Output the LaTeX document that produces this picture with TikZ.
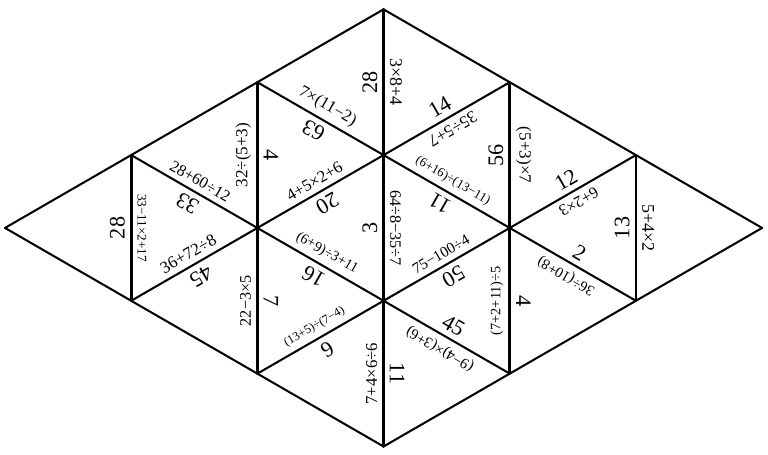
\documentclass[tikz,border=0pt]{standalone}
\usepackage{fontspec}
\setmainfont{Liberation Serif}
\tikzset{
  answer/.style={font=\fontsize{13}{15}\selectfont, anchor=south, inner sep=3.5pt},
  question/.style={font=\fontsize{#1}{#1}\selectfont, anchor=south, inner sep=3.5pt},
  question/.default=9.5,
  edgeline/.style={line width=0.042cm, line cap=round},
  cutline/.style={line width=0.058cm, line cap=round},
}
\begin{document}
\begin{tikzpicture}
                \useasboundingbox (-0.103000,-4.675000) rectangle (15.710000,4.693000);

                % Marking points of the grid
                \coordinate (P00) at (0.000000,0.000000);%
                \coordinate (P10) at (2.598076,1.500000);%
                \coordinate (P01) at (2.598076,-1.500000);%
                \coordinate (P20) at (5.196152,3.000000);%
                \coordinate (P11) at (5.196152,0.000000);%
                \coordinate (P02) at (5.196152,-3.000000);%
                \coordinate (P30) at (7.794229,4.500000);%
                \coordinate (P21) at (7.794229,1.500000);%
                \coordinate (P12) at (7.794229,-1.500000);%
                \coordinate (P03) at (7.794229,-4.500000);%
                \coordinate (P31) at (10.392305,3.000000);%
                \coordinate (P22) at (10.392305,0.000000);%
                \coordinate (P13) at (10.392305,-3.000000);%
                \coordinate (P32) at (12.990381,1.500000);%
                \coordinate (P23) at (12.990381,-1.500000);%
                \coordinate (P33) at (15.588457,0.000000);%

                % Drawing segment P00 P30
                \draw [edgeline] (P00) -- (P30);%
                % Drawing segment P01 P31
                \draw [edgeline] (P01) -- (P31);%
                % Drawing segment P02 P32
                \draw [edgeline] (P02) -- (P32);%
                % Drawing segment P03 P33
                \draw [edgeline] (P03) -- (P33);%

                % Drawing segment P00 P03
                \draw [edgeline] (P00) -- (P03);%
                % Drawing segment P10 P13
                \draw [edgeline] (P10) -- (P13);%
                % Drawing segment P20 P23
                \draw [edgeline] (P20) -- (P23);%
                % Drawing segment P30 P33
                \draw [edgeline] (P30) -- (P33);%

                % Drawing segment P10 P01
                \draw [cutline] (P10) -- (P01);%
                % Drawing segment P20 P02
                \draw [cutline] (P20) -- (P02);%
                % Drawing segment P30 P03
                \draw [cutline] (P30) -- (P03);%
                % Drawing segment P31 P13
                \draw [cutline] (P31) -- (P13);%
                % Drawing segment P32 P23
                \draw [cutline] (P32) -- (P23);%

                % Marking edge P01 P10
                \path (P01) -- (P10) node (v1l) [midway, answer, rotate=90] {28} node (v1r) [midway, question=7.7, rotate=270] {33−11×2+17};%
                % Marking edge P11 P20
                \path (P11) -- (P20) node (v2l) [midway, question=10, rotate=90] {32÷(5+3)} node (v2r) [midway, answer, rotate=270] {4};%
                % Marking edge P02 P11
                \path (P02) -- (P11) node (v3l) [midway, question, rotate=90] {22−3×5} node (v3r) [midway, answer, rotate=270] {7};%
                % Marking edge P21 P30
                \path (P21) -- (P30) node (v4l) [midway, answer, rotate=90] {28} node (v4r) [midway, question=10.5, rotate=270] {3×8+4};%
                % Marking edge P12 P21
                \path (P12) -- (P21) node (v5l) [midway, answer, rotate=90] {3} node (v5r) [midway, question, rotate=270] {64÷8−35÷7};%
                % Marking edge P03 P12
                \path (P03) -- (P12) node (v6l) [midway, question=9.8, rotate=90] {7+4×6÷6} node (v6r) [midway, answer, rotate=270] {11};%
                % Marking edge P22 P31
                \path (P22) -- (P31) node (v7l) [midway, answer, rotate=90] {56} node (v7r) [midway, question=10, rotate=270] {(5+3)×7};%
                % Marking edge P13 P22
                \path (P13) -- (P22) node (v8l) [midway, question=8.4, rotate=90] {(7+2+11)÷5} node (v8r) [midway, answer, rotate=270] {4};%
                % Marking edge P23 P32
                \path (P23) -- (P32) node (v9l) [midway, answer, rotate=90] {13} node (v9r) [midway, question=10.5, rotate=270] {5+4×2};%

                % Marking edge P01 P11
                \path (P01) -- (P11) node (a1l) [midway, question=10, rotate=30] {36+72÷8} node (a1r) [midway, answer, rotate=210] {45};%
                % Marking edge P11 P21
                \path (P11) -- (P21) node (a2l) [midway, question=9.8, rotate=30] {4+5×2+6} node (a2r) [midway, answer, rotate=210] {20};%
                % Marking edge P21 P31
                \path (P21) -- (P31) node (a3l) [midway, answer, rotate=30] {14} node (a3r) [midway, question=10, rotate=210] {35÷5+7};%
                % Marking edge P02 P12
                \path (P02) -- (P12) node (a4l) [midway, question=7.2, rotate=30] {(13+5)÷(7−4)} node (a4r) [midway, answer, rotate=210] {6};%
                % Marking edge P12 P22
                \path (P12) -- (P22) node (a5l) [midway, question=9, rotate=30] {75−100÷4} node (a5r) [midway, answer, rotate=210] {50};%
                % Marking edge P22 P32
                \path (P22) -- (P32) node (a6l) [midway, answer, rotate=30] {12} node (a6r) [midway, question, rotate=210] {6+2×3};%

                % Marking edge P10 P11
                \path (P10) -- (P11) node (b1l) [midway, question, rotate=-30] {28+60÷12} node (b1r) [midway, answer, rotate=150] {33};%
                % Marking edge P11 P12
                \path (P11) -- (P12) node (b2l) [midway, question=8.4, rotate=-30] {(6+9)÷3+11} node (b2r) [midway, answer, rotate=150] {16};%
                % Marking edge P12 P13
                \path (P12) -- (P13) node (b3l) [midway, answer, rotate=-30] {45} node (b3r) [midway, question=8.8, rotate=150] {(9−4)×(3+6)};%
                % Marking edge P20 P21
                \path (P20) -- (P21) node (b4l) [midway, question=9.9, rotate=-30] {7×(11−2)} node (b4r) [midway, answer, rotate=150] {63};%
                % Marking edge P21 P22
                \path (P21) -- (P22) node (b5l) [midway, question=7.6, rotate=-30] {(6+16)÷(13−11)} node (b5r) [midway, answer, rotate=150] {11};%
                % Marking edge P22 P23
                \path (P22) -- (P23) node (b6l) [midway, answer, rotate=-30] {2} node (b6r) [midway, question=8.7, rotate=150] {36÷(10+8)};%
\end{tikzpicture}
\end{document}
